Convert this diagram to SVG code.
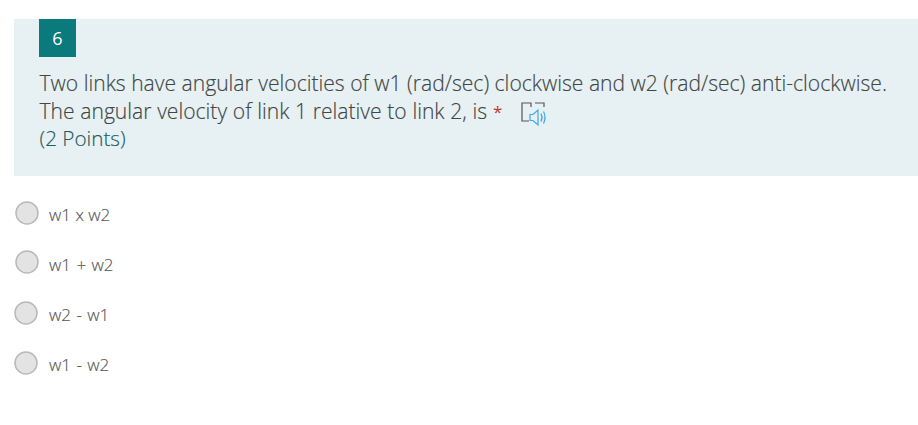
<svg xmlns="http://www.w3.org/2000/svg" width="918" height="425" viewBox="0 0 918 425">
<style>
text{font-family:"Open Sans","Noto Sans","Liberation Sans",sans-serif}
.q{font-size:21.1px;fill:#404644;font-weight:300;stroke:#404644;stroke-width:.15}
.o{font-size:17px;fill:#555;font-weight:300;stroke:#555;stroke-width:.15;word-spacing:1px}
.r{fill:#e3e3e3;stroke:#b9b9b9;stroke-width:1.5}
.i{fill:none;stroke-width:1.2}
</style>
<rect width="918" height="425" fill="#fff"/>
<rect x="14" y="19" width="904" height="157" fill="#e7f0f3"/>
<g id="badge"><rect x="39" y="19" width="37" height="38" fill="#0b7a7d"/><text x="57.500" y="45" font-size="18" fill="#fff" text-anchor="middle">6</text></g>
<g id="question">
<text class="q" x="39.500" y="91">Two links have angular velocities of w1 (rad/sec) clockwise and w2 (rad/sec) anti-clockwise.</text>
<text class="q" x="39.500" y="119" style="word-spacing:.2px">The angular velocity of link 1 relative to link 2, is</text>
<text x="493" y="118" font-size="17" fill="#c0392b">*</text>
<text class="q" x="39.500" y="146" style="font-size:20.7px;fill:#1f5c5f;stroke:#1f5c5f">(2 Points)</text>
</g>
<g id="reader">
<path class="i" stroke="#555" d="M529 121H522V103H531V107M535 103H544V107"/>
<path class="i" stroke="#3fa9e6" d="M530 114.500H533L538 110V125L533 120.500H530ZM541 113.500Q543 117.500 541 121.500M543.500 111.500Q546.500 117.500 543.500 123.500"/>
</g>
<g id="opt1"><circle class="r" cx="27" cy="213" r="11"/><text class="o" x="49" y="221" style="word-spacing:0">w1 x w2</text></g>
<g id="opt2"><circle class="r" cx="27" cy="262" r="11"/><text class="o" x="49" y="271">w1 + w2</text></g>
<g id="opt3"><circle class="r" cx="26" cy="313" r="11"/><text class="o" x="49" y="321">w2 - w1</text></g>
<g id="opt4"><circle class="r" cx="26" cy="363" r="11"/><text class="o" x="49" y="371">w1 - w2</text></g>
</svg>
